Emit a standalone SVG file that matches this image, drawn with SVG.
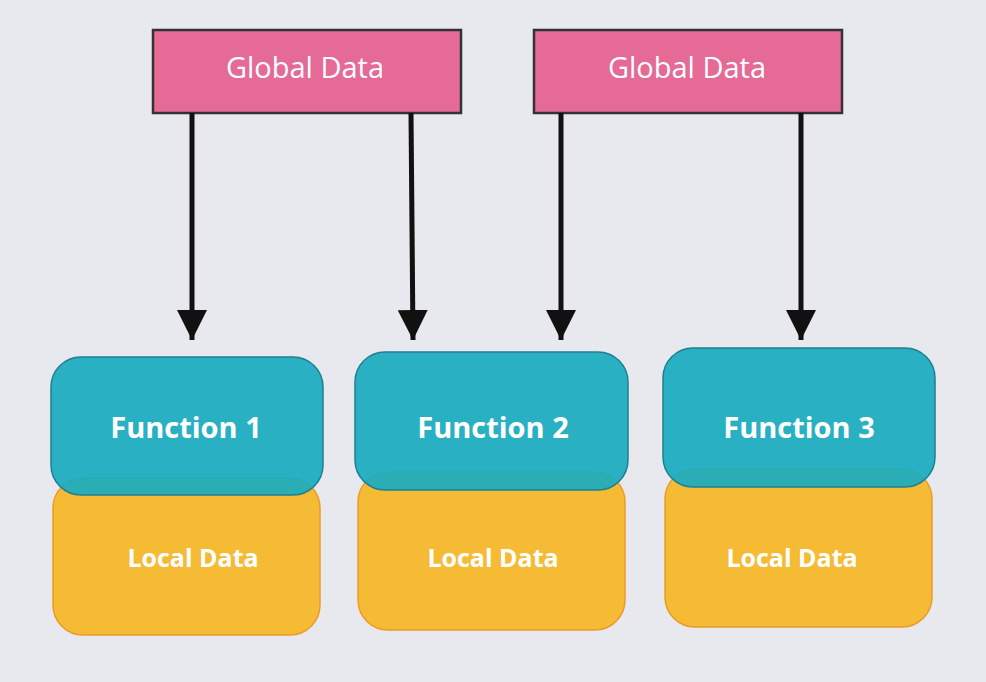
<svg xmlns="http://www.w3.org/2000/svg" width="986" height="682" viewBox="0 0 986 682">
<style>
.g{fill:#e56a95;stroke:#333;stroke-width:2.5}
.gt{font-family:"Open Sans",sans-serif;font-size:29px;fill:#fff;text-anchor:middle}
.f{fill:#1aacc0;fill-opacity:0.93;stroke:#1f7f90;stroke-width:1.5}
.ft{font-family:"Open Sans",sans-serif;font-weight:bold;font-size:29px;fill:#fff;text-anchor:middle}
.l{fill:#f6bb35;stroke:#ec9a2a;stroke-width:1.5}
.lt{font-family:"Open Sans",sans-serif;font-weight:bold;font-size:25px;fill:#fff;text-anchor:middle}
.c{stroke:#111;stroke-width:5;fill:none}
</style>
<defs><marker id="a" viewBox="0 0 10 10" refX="10" refY="5" markerWidth="6" markerHeight="6" markerUnits="strokeWidth" orient="auto"><path d="M0,0L10,5L0,10z" fill="#111"/></marker></defs>
<rect width="986" height="682" fill="#e8e9ee"/>
<g id="global1"><rect class="g" x="153" y="30" width="308" height="83"/><text class="gt" x="305" y="78">Global Data</text></g>
<g id="global2"><rect class="g" x="534" y="30" width="308" height="83"/><text class="gt" x="687" y="78">Global Data</text></g>
<g id="local1"><rect class="l" x="53" y="478" width="267" height="157" rx="30"/><text class="lt" x="193" y="567">Local Data</text></g>
<g id="local2"><rect class="l" x="358" y="472" width="267" height="158" rx="30"/><text class="lt" x="493" y="567">Local Data</text></g>
<g id="local3"><rect class="l" x="665" y="469" width="267" height="158" rx="30"/><text class="lt" x="792" y="567">Local Data</text></g>
<g id="func1"><rect class="f" x="51" y="357" width="272" height="138" rx="30"/><text class="ft" x="186" y="438">Function 1</text></g>
<g id="func2"><rect class="f" x="355" y="352" width="273" height="138" rx="30"/><text class="ft" x="493" y="438">Function 2</text></g>
<g id="func3"><rect class="f" x="663" y="348" width="272" height="139" rx="30"/><text class="ft" x="799" y="438">Function 3</text></g>
<g id="connectors">
<line class="c" x1="192" y1="113" x2="192" y2="340" marker-end="url(#a)"/>
<line class="c" x1="411" y1="113" x2="413" y2="340" marker-end="url(#a)"/>
<line class="c" x1="561" y1="113" x2="561" y2="340" marker-end="url(#a)"/>
<line class="c" x1="801" y1="113" x2="801" y2="340" marker-end="url(#a)"/>
</g>
</svg>
